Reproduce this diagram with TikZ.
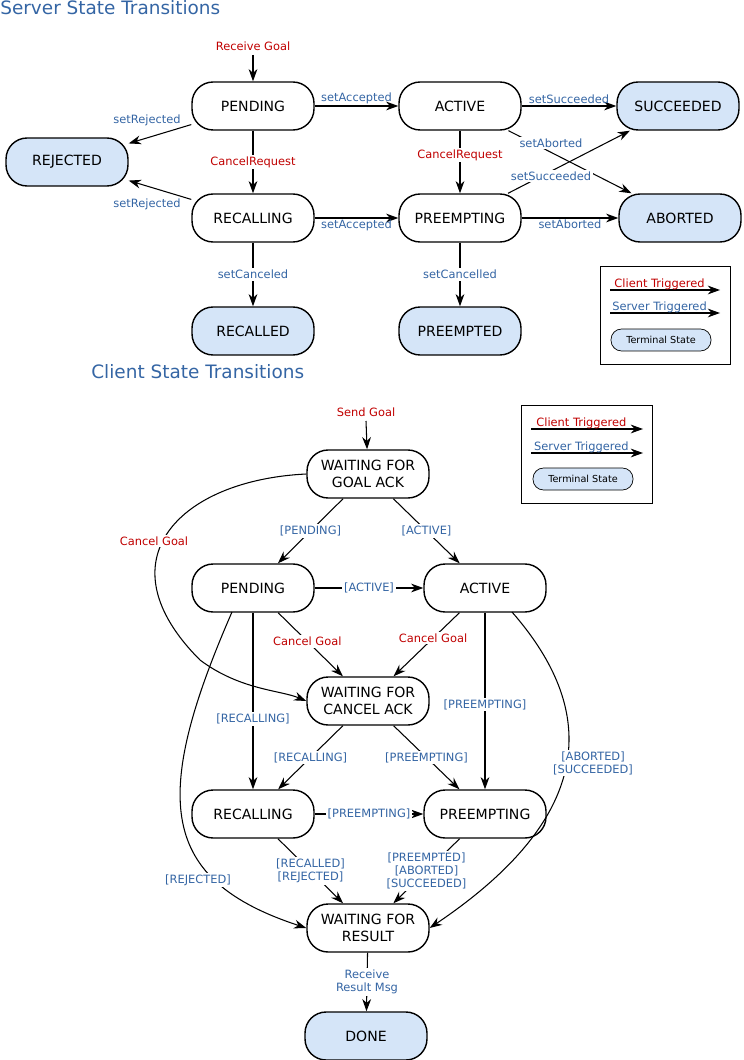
\documentclass[tikz,border=0pt]{standalone}
\usepackage{fontspec}
\setmainfont{DejaVu Sans}
\usetikzlibrary{arrows.meta}
\definecolor{tb}{HTML}{D5E5F8}
\definecolor{lb}{HTML}{3465A4}
\definecolor{lr}{HTML}{C00000}
\begin{document}
\begin{tikzpicture}[x=0.02cm,y=-0.02cm,
 st/.style={draw,thick,rounded corners=12pt,minimum width=2.44cm,minimum height=0.96cm,font=\fontsize{8}{9.5}\selectfont,align=center},
 term/.style={st,fill=tb},
 ar/.style={-{Stealth[length=7pt,width=5pt]},semithick},
 sl/.style={font=\fontsize{6.5}{7.5}\selectfont,text=lb,fill=white,inner sep=1pt,align=center},
 cl/.style={sl,text=lr},
 ttl/.style={font=\fontsize{10.5}{12}\selectfont,text=lb,anchor=north west,inner sep=0pt}]
\useasboundingbox (0,0) rectangle (743,1060);
\node[ttl] (t1) at (0,0) {Server State Transitions};
\node[ttl] (t2) at (91,364) {Client State Transitions};
% server
\node[st] (pe) at (253,106) {PENDING};
\node[st] (ac) at (460,106) {ACTIVE};
\node[term] (su) at (678,106) {SUCCEEDED};
\node[term] (rj) at (67,162) {REJECTED};
\node[st] (rc) at (253,218) {RECALLING};
\node[st] (pr) at (460,218) {PREEMPTING};
\node[term] (ab) at (680,218) {ABORTED};
\node[term] (rd) at (253,331) {RECALLED};
\node[term] (pd) at (460,331) {PREEMPTED};
\node[cl,fill=none] (rg) at (253,46) {Receive Goal};
\coordinate (rgs) at (253,55);
\draw[ar] (rgs) -- (pe);
\draw[ar] (pe) -- node[sl,above,fill=none] {setAccepted} (ac);
\draw[ar] (ac) -- node[sl,above,fill=none] {setSucceeded} (su);
\draw[ar] (pe) -- (rj);
\node[sl,fill=none] at (147,120) {setRejected};
\draw[ar] (pe) -- node[cl] {CancelRequest} (rc);
\draw[ar] (rc) -- (rj);
\node[sl,fill=none] at (147,204) {setRejected};
\draw[ar] (ac) -- (pr);
\node[cl] at (460,155) {CancelRequest};
\draw[ar] (rc) -- node[sl,below,fill=none] {setAccepted} (pr);
\draw[ar] (pr) -- node[sl,below,fill=none] {setAborted} (ab);
\draw[ar] (pr) -- (su);
\draw[ar] (ac) -- (ab);
\node[sl] at (551,143) {setAborted};
\node[sl] at (551,176) {setSucceeded};
\draw[ar] (rc) -- node[sl] {setCanceled} (rd);
\draw[ar] (pr) -- node[sl] {setCancelled} (pd);
% legend 1
\node[draw,minimum width=2.6cm,minimum height=1.96cm,inner sep=0] (lg1) at (665,315) {};
\coordinate (a1) at (610,290); \coordinate (b1) at (720,290);
\draw[ar] (a1) -- (b1) node[cl,fill=none,pos=0.45,above=-1pt] {Client Triggered};
\coordinate (a2) at (610,313); \coordinate (b2) at (720,313);
\draw[ar] (a2) -- (b2) node[sl,fill=none,pos=0.45,above=-1pt] {Server Triggered};
\node[draw,fill=tb,rounded corners=6pt,minimum width=2cm,minimum height=0.44cm,font=\fontsize{5.5}{6}\selectfont] (ts1) at (661,340) {Terminal State};
% client
\node[cl,fill=none] (sg) at (366,412) {Send Goal};
\coordinate (sgs) at (366,421);
\node[st] (wg) at (368,474) {WAITING FOR\\GOAL ACK};
\node[st] (cp) at (253,588) {PENDING};
\node[st] (ca) at (485,588) {ACTIVE};
\node[st] (wc) at (368,701) {WAITING FOR\\CANCEL ACK};
\node[st] (cr) at (253,814) {RECALLING};
\node[st] (cpr) at (485,814) {PREEMPTING};
\node[st] (wr) at (368,928) {WAITING FOR\\RESULT};
\node[term] (dn) at (366,1036) {DONE};
\draw[ar] (sgs) -- (wg);
\draw[ar] (wg) -- node[sl] {[PENDING]} (cp);
\draw[ar] (wg) -- node[sl] {[ACTIVE]} (ca);
\draw[ar] (wg.west) .. controls (180,480) and (100,560) .. (200,660) .. controls (240,690) and (280,690) .. (wc.west);
\node[cl] at (154,541) {Cancel Goal};
\draw[ar] (cp) -- node[sl] {[ACTIVE]} (ca);
\draw[ar] (cp) -- node[cl,pos=0.45] {Cancel Goal} (wc);
\draw[ar] (ca) -- node[cl,pos=0.4] {Cancel Goal} (wc);
\draw[ar] (cp) -- node[sl,pos=0.6] {[RECALLING]} (cr);
\draw[ar] (ca) -- node[sl,pos=0.52] {[PREEMPTING]} (cpr);
\draw[ar] (512,612) .. controls (580,690) and (620,800) .. (wr.east);
\node[sl] at (593,763) {[ABORTED]\\{}[SUCCEEDED]};
\draw[ar] (232,612) .. controls (150,800) and (160,880) .. (wr.west);
\node[sl] at (198,880) {[REJECTED]};
\draw[ar] (wc) -- node[sl] {[RECALLING]} (cr);
\draw[ar] (wc) -- node[sl] {[PREEMPTING]} (cpr);
\draw[ar] (cr) -- node[sl] {[PREEMPTING]} (cpr);
\draw[ar] (cr) -- node[sl] {[RECALLED]\\{}[REJECTED]} (wr);
\draw[ar] (cpr) -- node[sl] {[PREEMPTED]\\{}[ABORTED]\\{}[SUCCEEDED]} (wr);
\draw[ar] (wr) -- node[sl] {Receive\\Result Msg} (dn);
% legend 2
\node[draw,minimum width=2.62cm,minimum height=1.96cm,inner sep=0] (lg2) at (586.5,454) {};
\coordinate (a3) at (531,429); \coordinate (b3) at (643,429);
\draw[ar] (a3) -- (b3) node[cl,fill=none,pos=0.45,above=-1pt] {Client Triggered};
\coordinate (a4) at (531,453); \coordinate (b4) at (643,453);
\draw[ar] (a4) -- (b4) node[sl,fill=none,pos=0.45,above=-1pt] {Server Triggered};
\node[draw,fill=tb,rounded corners=6pt,minimum width=2cm,minimum height=0.44cm,font=\fontsize{5.5}{6}\selectfont] (ts2) at (583,479) {Terminal State};
\end{tikzpicture}
\end{document}
